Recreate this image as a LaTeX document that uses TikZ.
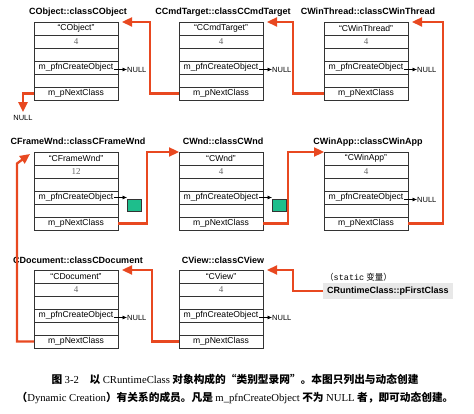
\documentclass[tikz,border=0pt]{standalone}
\usepackage{fontspec}
\setmainfont{Liberation Serif}
\setsansfont{Liberation Sans}
\setmonofont{Liberation Mono}
\newfontfamily\cjk{Noto Sans CJK SC}
\usetikzlibrary{arrows.meta, positioning, calc}
\definecolor{linkred}{RGB}{232,72,32}
\definecolor{objgreen}{RGB}{30,190,140}
\tikzset{
  rowbox/.style={
    rectangle, draw=black!80, line width=0.6pt,
    minimum width=84pt, minimum height=13pt,
    inner sep=0pt, outer sep=0pt,
    font=\sffamily\fontsize{8.6}{10}\selectfont
  },
  sizetext/.style={font=\rmfamily\fontsize{9}{10}\selectfont, text=black!60},
  titletext/.style={font=\sffamily\bfseries\fontsize{9}{10}\selectfont, inner sep=0pt},
  nulltext/.style={font=\sffamily\fontsize{7.5}{9}\selectfont, inner sep=0pt},
  nextarrow/.style={-{Triangle[length=10pt,width=9pt]}, line width=2.3pt, color=linkred},
  nullarrow/.style={-{Latex[length=4.5pt,width=4pt]}, line width=0.6pt, shorten <=-4pt},
  objbox/.style={
    rectangle, draw=black!80, fill=objgreen,
    minimum width=14pt, minimum height=12pt, inner sep=0pt
  },
}
\newcommand{\zh}[1]{{\cjk\bfseries #1}}
% #1 name, #2 x, #3 y, #4 title, #5 class name, #6 object size
\newcommand{\runtimebox}[6]{%
  \node[rowbox, anchor=north west] (#1-1) at (#2,#3) {“#5”};
  \node[rowbox, sizetext, below=0pt of #1-1] (#1-2) {#6};
  \node[rowbox, below=0pt of #1-2] (#1-3) {};
  \node[rowbox, below=0pt of #1-3] (#1-4) {m\_pfnCreateObject};
  \node[rowbox, below=0pt of #1-4] (#1-5) {};
  \node[rowbox, below=0pt of #1-5] (#1-6) {m\_pNextClass};
  \node[titletext, anchor=base, xshift=2pt, yshift=7pt] (#1-t) at (#1-1.north) {#4};
}

\begin{document}
\begin{tikzpicture}[x=1pt, y=-1pt]
  \useasboundingbox (0,0) rectangle (474,414);
  % row 1
  \runtimebox{obj}{34}{22}{CObject::classCObject}{CObject}{4}
  \runtimebox{cmd}{179}{22}{CCmdTarget::classCCmdTarget}{CCmdTarget}{4}
  \runtimebox{thr}{324}{22}{CWinThread::classCWinThread}{CWinThread}{4}
  % row 2
  \runtimebox{frm}{34}{152}{CFrameWnd::classCFrameWnd}{CFrameWnd}{12}
  \runtimebox{wnd}{179}{152}{CWnd::classCWnd}{CWnd}{4}
  \runtimebox{app}{324}{152}{CWinApp::classCWinApp}{CWinApp}{4}
  % row 3
  \runtimebox{doc}{34}{270}{CDocument::classCDocument}{CDocument}{4}
  \runtimebox{view}{179}{270}{CView::classCView}{CView}{4}

  % m_pfnCreateObject
  \node[nulltext, right=9pt of obj-4, yshift=-2pt] (obj-null) {NULL};
  \node[nulltext, right=9pt of cmd-4, yshift=-2pt] (cmd-null) {NULL};
  \node[nulltext, right=9pt of thr-4, yshift=-2pt] (thr-null) {NULL};
  \node[nulltext, right=9pt of app-4, yshift=-2pt] (app-null) {NULL};
  \node[nulltext, right=9pt of doc-4, yshift=-2pt] (doc-null) {NULL};
  \node[nulltext, right=9pt of view-4, yshift=-2pt] (view-null) {NULL};
  \node[objbox, right=9pt of frm-4, yshift=-7.5pt] (frm-obj) {};
  \node[objbox, right=9pt of wnd-4, yshift=-7.5pt] (wnd-obj) {};
  \draw[nullarrow] (obj-4.east |- obj-null.west) -- (obj-null.west);
  \draw[nullarrow] (cmd-4.east |- cmd-null.west) -- (cmd-null.west);
  \draw[nullarrow] (thr-4.east |- thr-null.west) -- (thr-null.west);
  \draw[nullarrow] (app-4.east |- app-null.west) -- (app-null.west);
  \draw[nullarrow] (doc-4.east |- doc-null.west) -- (doc-null.west);
  \draw[nullarrow] (view-4.east |- view-null.west) -- (view-null.west);
  \draw[nullarrow] (frm-4.east) -- (frm-4.east -| frm-obj.west);
  \draw[nullarrow] (wnd-4.east) -- (wnd-4.east -| wnd-obj.west);

  % static head of the list
  \node[fill=gray!18, font=\sffamily\bfseries\fontsize{9}{10}\selectfont,
        minimum height=16pt, inner xsep=4pt, inner ysep=0pt, anchor=west]
        (first) at (323,291) {CRuntimeClass::pFirstClass};
  \node[font=\fontsize{8.5}{10}\selectfont, anchor=south west, inner sep=0pt]
        (first-note) at ([xshift=2pt,yshift=1pt]first.north west)
        {{\cjk （}{\ttfamily static} {\cjk 变量）}};

  % m_pNextClass
  \node[nulltext] (obj-end) at (23,118) {NULL};
  \draw[nextarrow] (first.west) -- ++(-30,0) |- ([xshift=4pt]view-1.north east);
  \draw[nextarrow] (view-6.west) -- ++(-27,0) |- ([xshift=4pt]doc-1.north east);
  \draw[nextarrow] (doc-6.west) -- ++(-17,0) -- ++(0,-178)
                   -- ([xshift=-4pt,yshift=-2pt]frm-1.north west);
  \draw[nextarrow] (frm-6.east) -- ++(29,0) |- (wnd-1.north west);
  \draw[nextarrow] (wnd-6.east) -- ++(25,0) |- (app-1.north west);
  \draw[nextarrow] (app-6.east) -- ++(35,0) |- ([xshift=4pt]thr-1.north east);
  \draw[nextarrow] (thr-6.west) -- ++(-31,0) |- ([xshift=4pt]cmd-1.north east);
  \draw[nextarrow] (cmd-6.west) -- ++(-29,0) |- ([xshift=4pt]obj-1.north east);
  \draw[nextarrow] (obj-6.west) -| ([yshift=3pt]obj-end.north);

  % caption
  \node[font=\fontsize{10.7}{18}\selectfont, align=center] (caption) at (235,389)
    {\zh{图 }3-2\zh{　以 }CRuntimeClass\zh{ 对象构成的“类别型录网”。本图只列出与动态创建}\\
     \zh{（}Dynamic Creation\zh{）有关系的成员。凡是 }m\_pfnCreateObject\zh{ 不为 }NULL\zh{ 者，即可动态创建。}};
\end{tikzpicture}
\end{document}
